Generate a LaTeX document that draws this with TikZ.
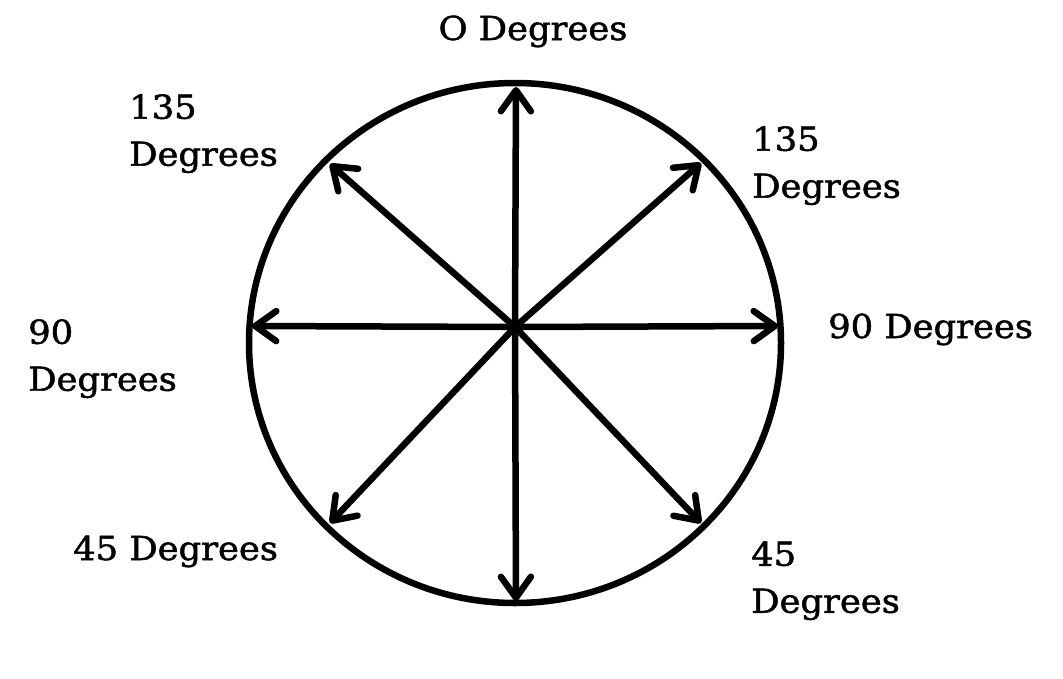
\documentclass[tikz,border=0pt]{standalone}
\usepackage{fontspec}
\setmainfont{DejaVu Serif}[FakeStretch=1.07,FakeBold=1.5]
\usetikzlibrary{arrows.meta}
\begin{document}
\begin{tikzpicture}[x=1pt, y=-1pt, line width=6.5pt,
   >={Straight Barb[length=21pt,width=30pt,round]},
   lbl/.style={font=\fontsize{33}{47}\selectfont, inner sep=0pt, align=left}]
   \useasboundingbox (0,0) rectangle (1063,678);
   \draw[line width=6.5pt] (515,343) ellipse [x radius=266, y radius=260];
   \coordinate (O) at (515,327);
   \coordinate (N) at (516,87);
   \coordinate (NE) at (701,163);
   \coordinate (E) at (778,326);
   \coordinate (SE) at (701,523);
   \coordinate (S) at (516,601);
   \coordinate (SW) at (330,523);
   \coordinate (W) at (252,326);
   \coordinate (NW) at (330,164);
   \draw[->] (O) -- (N);
   \draw[->] (O) -- (NE);
   \draw[->] (O) -- (E);
   \draw[->] (O) -- (SE);
   \draw[->] (O) -- (S);
   \draw[->] (O) -- (SW);
   \draw[->] (O) -- (W);
   \draw[->] (O) -- (NW);
   \node[lbl, anchor=base] (lN) at (533,40) {O Degrees};
   \node[lbl, anchor=north west] (lNE) at (749,123) {135\\Degrees};
   \node[lbl, anchor=base west] (lE) at (825,338) {90 Degrees};
   \node[lbl, anchor=north west] (lSE) at (748,538) {45\\Degrees};
   \node[lbl, anchor=base west] (lSW) at (70,560) {45 Degrees};
   \node[lbl, anchor=north west] (lW) at (25,316) {90\\Degrees};
   \node[lbl, anchor=north west] (lNW) at (126,91) {135\\Degrees};
\end{tikzpicture}
\end{document}
